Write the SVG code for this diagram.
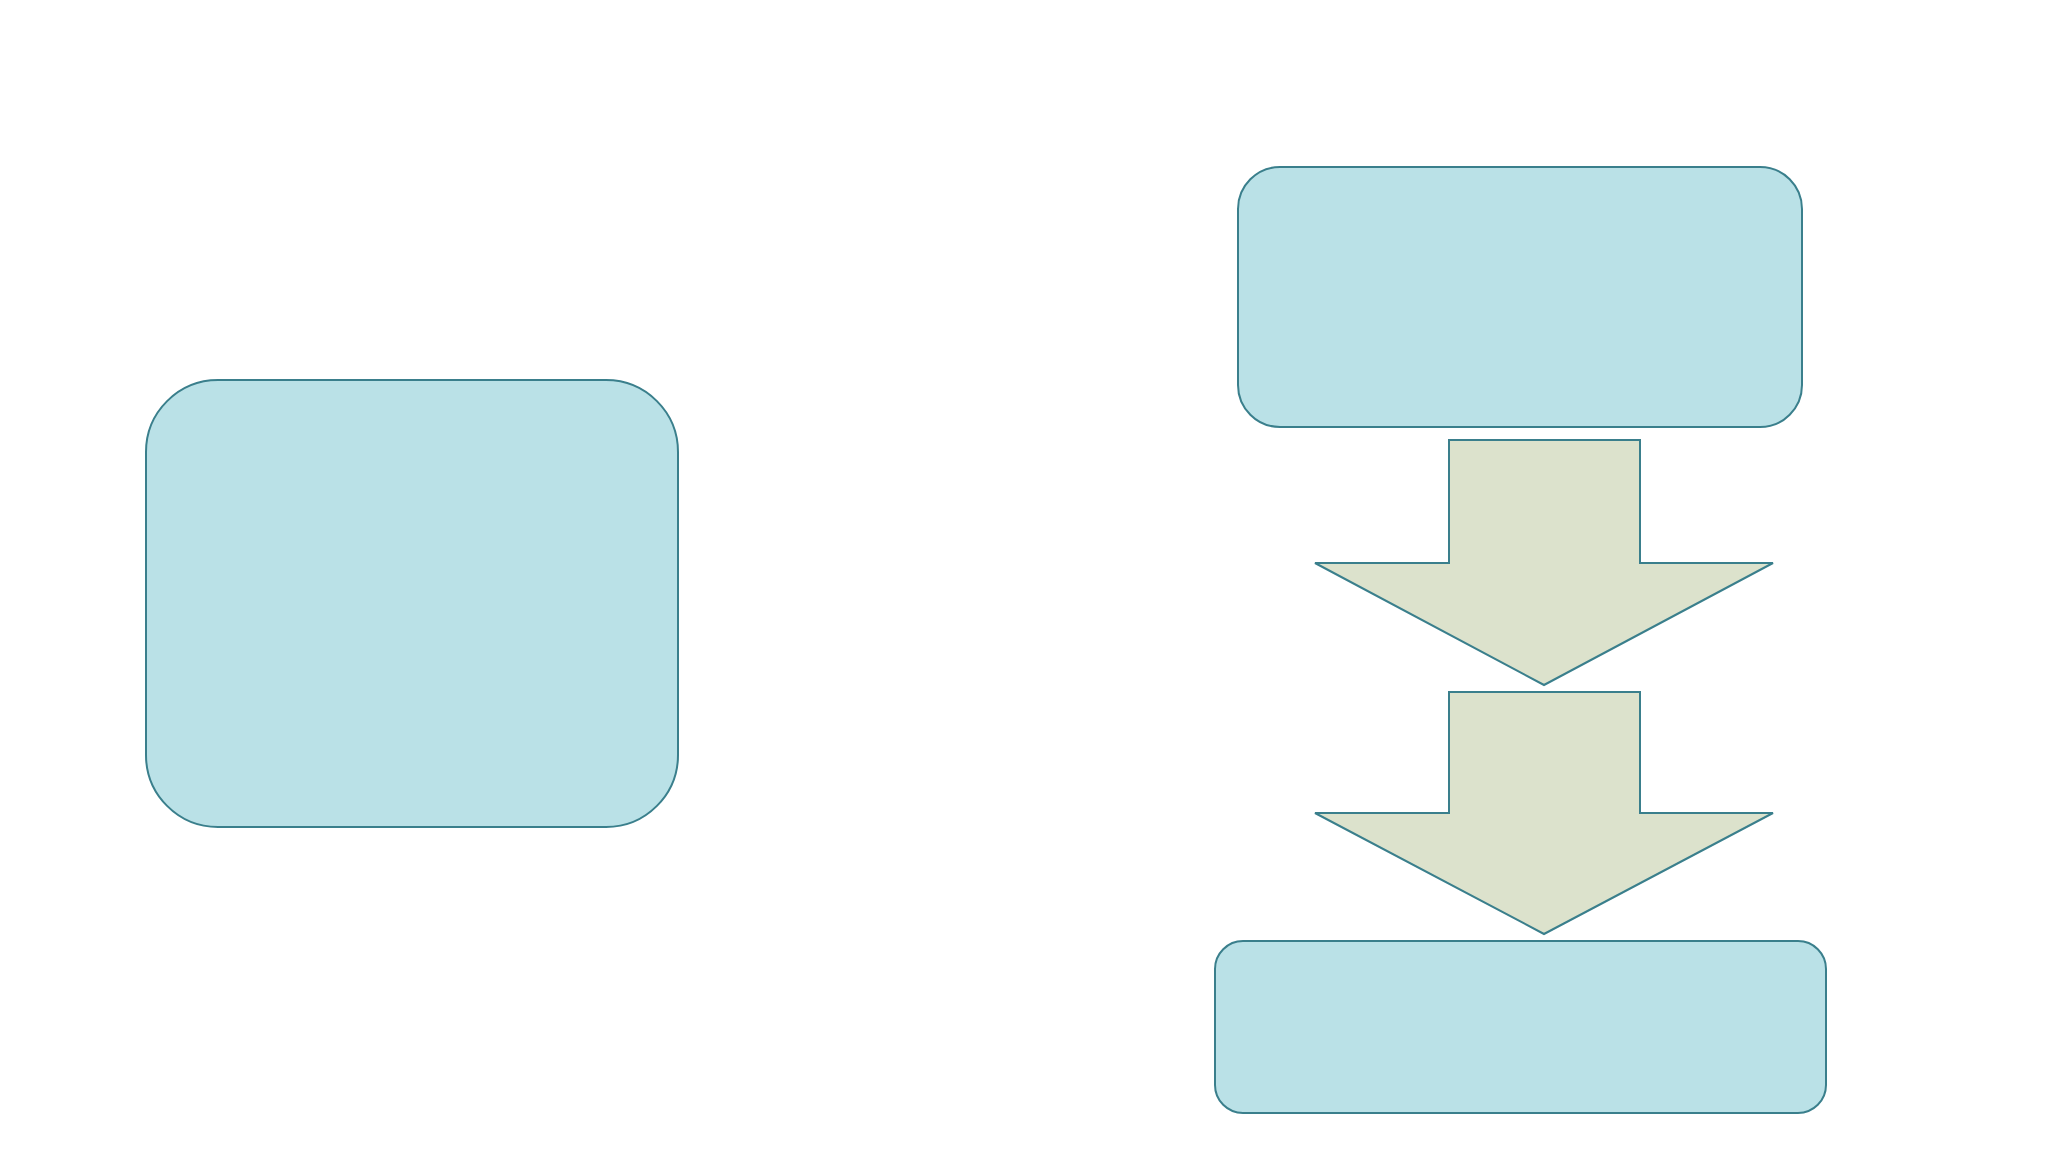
<svg xmlns="http://www.w3.org/2000/svg" width="2048" height="1152" viewBox="0 0 2048 1152">
  <style>
    .box { fill: #BAE1E7; stroke: #3A7F8C; stroke-width: 2; }
    .arrow { fill: #DCE2CC; stroke: #3A7F8C; stroke-width: 2; stroke-linejoin: miter; }
  </style>
  <rect x="0" y="0" width="2048" height="1152" fill="#FFFFFF"/>
  <g id="node-left">
    <rect class="box" x="146" y="380" width="532" height="447" rx="72" ry="72"/>
  </g>
  <g id="node-top">
    <rect class="box" x="1238" y="167" width="564" height="260" rx="42" ry="42"/>
  </g>
  <g id="node-bottom">
    <rect class="box" x="1215" y="941" width="611" height="172" rx="28" ry="28"/>
  </g>
  <g id="connectors">
    <polygon class="arrow" points="1449,440 1640,440 1640,563 1773,563 1544,685 1315,563 1449,563"/>
    <polygon class="arrow" points="1449,692 1640,692 1640,813 1773,813 1544,934 1315,813 1449,813"/>
  </g>
</svg>
